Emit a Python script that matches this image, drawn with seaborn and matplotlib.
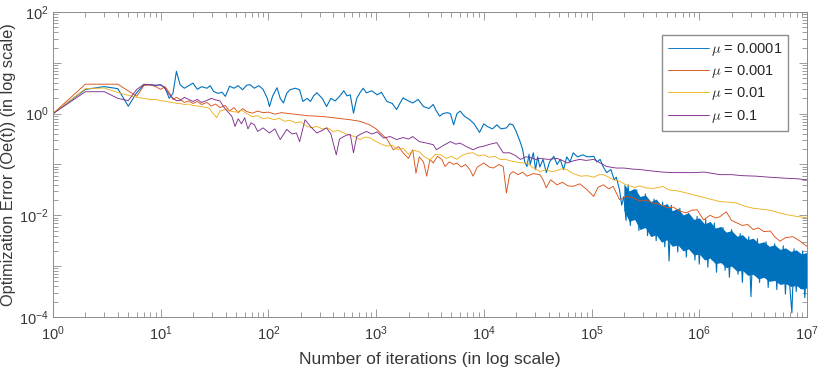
import numpy as np
import pandas as pd
import seaborn as sns
import matplotlib.pyplot as plt
from matplotlib.lines import Line2D
from matplotlib.legend_handler import HandlerLine2D
from matplotlib.ticker import LogLocator, NullFormatter

# ---- data ----
# first iterations (1..14) are shared by all runs
early_iter = [1, 2, 3, 4, 5, 6, 7, 8, 9, 10, 11, 12, 13, 14]
blue_early = [1.0, 3.0, 3.4, 3.1, 1.4, 2.6, 3.7, 3.7, 3.6, 3.7, 3.2, 2.0, 2.5, 6.8]
orange_early = [1.0, 3.8, 3.8, 3.8, 2.8, 2.2, 3.6, 3.7, 3.4, 3.0, 3.4, 2.6, 1.9, 2.1]
yellow_early = [1.0, 3.1, 3.2, 2.6, 2.3, 2.1, 2.0, 1.9, 1.9, 1.8, 1.75, 1.7, 1.65, 1.6]
purple_early = [1.0, 2.7, 2.7, 2.0, 1.8, 3.0, 3.8, 3.7, 3.6, 3.7, 3.1, 2.4, 2.0, 1.8]

# later iterations, stored as log10(iteration) and log10(error)
blue_log_it = [1.18, 1.22, 1.26, 1.30, 1.34, 1.38, 1.43, 1.46, 1.49, 1.53, 1.57, 1.60, 1.64, 1.68,
               1.72, 1.76, 1.80, 1.83, 1.87, 1.91, 1.95, 1.99, 2.01, 2.04, 2.08, 2.11, 2.14, 2.17,
               2.20, 2.25, 2.29, 2.32, 2.36, 2.39, 2.42, 2.45, 2.50, 2.54, 2.58, 2.62, 2.66, 2.70,
               2.73, 2.76, 2.79, 2.82, 2.85, 2.88, 2.91, 2.96, 3.01, 3.05, 3.10, 3.15, 3.19, 3.22,
               3.25, 3.30, 3.34, 3.39, 3.44, 3.49, 3.53, 3.56, 3.59, 3.62, 3.66, 3.69, 3.72, 3.75,
               3.78, 3.82, 3.87, 3.91, 3.96, 4.00, 4.03, 4.08, 4.12, 4.16, 4.21, 4.24, 4.27, 4.30,
               4.34, 4.36, 4.38, 4.40, 4.42, 4.43, 4.46, 4.48, 4.50, 4.52, 4.55, 4.58, 4.61, 4.65,
               4.68, 4.71, 4.74, 4.77, 4.80, 4.83, 4.87, 4.92, 4.96, 5.02, 5.05, 5.08, 5.11, 5.14,
               5.18, 5.21, 5.23, 5.26, 5.28, 5.30, 5.32,
               5.34, 5.36, 5.38, 5.40, 5.42, 5.44, 5.46, 5.48, 5.50, 5.52, 5.54, 5.56, 5.58, 5.60,
               5.62, 5.64, 5.66, 5.68, 5.70, 5.72, 5.74, 5.76, 5.78, 5.80, 5.82, 5.84, 5.86, 5.88,
               5.90, 5.92, 5.94, 5.96, 5.98, 6.00, 6.02, 6.04, 6.06, 6.08, 6.10, 6.12, 6.14, 6.16,
               6.18, 6.20, 6.22, 6.24, 6.26, 6.28, 6.30, 6.32, 6.34, 6.36, 6.38, 6.40, 6.42, 6.44,
               6.46, 6.48, 6.50, 6.52, 6.54, 6.56, 6.58, 6.60, 6.62, 6.64, 6.66, 6.68, 6.70, 6.72,
               6.74, 6.76, 6.78, 6.80, 6.82, 6.84, 6.86, 6.88, 6.90, 6.92, 6.94, 6.96, 6.98, 7.00]
blue_log_err = [0.57, 0.50, 0.55, 0.60, 0.48, 0.53, 0.50, 0.55, 0.44, 0.40, 0.42, 0.34, 0.54, 0.50,
                0.55, 0.47, 0.56, 0.57, 0.50, 0.55, 0.48, 0.30, 0.14, 0.35, 0.51, 0.30, 0.21, 0.40,
                0.47, 0.50, 0.47, 0.24, 0.30, 0.24, 0.35, 0.41, 0.30, 0.14, 0.30, 0.25, 0.34, 0.45,
                0.35, 0.37, 0.01, 0.30, 0.41, 0.50, 0.41, 0.45, 0.37, 0.42, 0.24, 0.20, 0.08, 0.20,
                0.31, 0.25, 0.21, 0.28, 0.14, 0.10, 0.18, 0.05, -0.05, 0.00, 0.02, 0.00, -0.22, 0.00,
                0.05, -0.05, -0.12, -0.20, -0.37, -0.20, -0.25, -0.30, -0.22, -0.30, -0.28, -0.20, -0.22, -0.35,
                -0.57, -0.70, -0.95, -1.04, -0.80, -1.00, -0.77, -1.10, -0.85, -1.05, -0.90, -1.16, -0.95, -0.84,
                -1.00, -0.90, -1.10, -0.85, -0.95, -0.77, -0.85, -0.81, -0.85, -0.84, -0.95, -0.90, -1.05, -1.16,
                -1.10, -1.30, -1.25, -1.50, -1.80, -1.63, -2.10,
                -1.40, -2.20, -1.52, -2.05, -1.50, -2.30, -1.66, -2.20, -1.58, -2.40, -1.74, -2.30, -1.68, -2.50,
                -1.80, -2.42, -1.74, -2.62, -1.82, -2.90, -1.80, -2.55, -1.95, -2.72, -1.86, -2.62, -2.02, -2.82,
                -1.96, -2.68, -2.10, -2.88, -2.02, -2.96, -2.14, -2.78, -2.08, -3.02, -2.22, -2.88, -2.15, -3.12,
                -2.30, -2.92, -2.24, -3.08, -2.36, -3.22, -2.28, -3.02, -2.44, -3.16, -2.36, -3.32, -2.50, -3.08,
                -2.42, -3.60, -2.52, -3.18, -2.46, -3.32, -2.60, -3.22, -2.52, -3.42, -2.64, -3.28, -2.56, -3.46,
                -2.70, -3.34, -2.60, -3.55, -2.72, -3.38, -3.92, -2.66, -3.50, -2.78, -3.44, -2.70, -3.62, -2.86]

# dense part of the mu=0.0001 curve: upper / lower edge of the band
band_log_it = [5.30, 5.35, 5.40, 5.45, 5.50, 5.55, 5.60, 5.65, 5.70, 5.75, 5.80, 5.85, 5.90, 5.95,
               6.00, 6.05, 6.10, 6.15, 6.20, 6.25, 6.30, 6.35, 6.40, 6.45, 6.50, 6.55, 6.60, 6.65,
               6.70, 6.75, 6.80, 6.85, 6.90, 6.95, 7.00]
band_hi = [-1.38, -1.52, -1.47, -1.63, -1.60, -1.73, -1.68, -1.81, -1.77, -1.91, -1.86, -1.99, -1.95, -2.08,
           -2.05, -2.17, -2.12, -2.25, -2.22, -2.33, -2.30, -2.41, -2.38, -2.48, -2.45, -2.55, -2.52, -2.61,
           -2.58, -2.67, -2.64, -2.71, -2.68, -2.76, -2.73]
band_lo = [-1.90, -2.12, -2.08, -2.28, -2.24, -2.42, -2.38, -2.53, -2.48, -2.61, -2.58, -2.70, -2.66, -2.78,
           -2.76, -2.88, -2.84, -2.95, -2.93, -3.03, -3.00, -3.10, -3.08, -3.18, -3.16, -3.25, -3.22, -3.30,
           -3.28, -3.36, -3.34, -3.40, -3.38, -3.45, -3.43]

orange_log_it = [1.18, 1.22, 1.26, 1.30, 1.34, 1.38, 1.43, 1.47, 1.51, 1.55, 1.60, 1.64, 1.68, 1.72,
                 1.76, 1.80, 1.85, 1.90, 1.95, 2.00, 2.06, 2.12, 2.20, 2.28, 2.36, 2.45, 2.52, 2.60,
                 2.68, 2.76, 2.85, 2.94, 3.00, 3.05, 3.10, 3.16, 3.21, 3.25, 3.30, 3.34, 3.37, 3.40,
                 3.44, 3.47, 3.50, 3.53, 3.57, 3.61, 3.64, 3.68, 3.72, 3.75, 3.79, 3.83, 3.87, 3.90,
                 3.94, 4.00, 4.05, 4.09, 4.14, 4.18, 4.21, 4.24, 4.27, 4.32, 4.36, 4.40, 4.46, 4.52,
                 4.55, 4.58, 4.62, 4.68, 4.73, 4.78, 4.83, 4.89, 4.96, 5.02, 5.06, 5.11, 5.16, 5.20,
                 5.26, 5.32, 5.38, 5.45, 5.51, 5.57, 5.63, 5.70, 5.76, 5.82, 5.88, 5.93, 5.98, 6.04,
                 6.10, 6.15, 6.19, 6.25, 6.30, 6.35, 6.40, 6.45, 6.50, 6.55, 6.60, 6.66, 6.70, 6.75,
                 6.80, 6.87, 6.93, 7.00]
orange_log_err = [0.28, 0.22, 0.25, 0.20, 0.24, 0.18, 0.22, 0.15, 0.19, 0.12, 0.16, 0.05, 0.12, 0.02,
                  0.10, 0.04, 0.01, 0.05, 0.02, 0.03, -0.01, 0.02, 0.00, -0.02, -0.04, -0.05, -0.06, -0.08,
                  -0.10, -0.12, -0.15, -0.22, -0.30, -0.40, -0.50, -0.71, -0.65, -0.77, -0.88, -0.71, -1.17, -0.85,
                  -0.95, -1.23, -0.90, -0.97, -0.84, -0.90, -1.04, -0.95, -1.00, -0.97, -1.05, -1.00, -1.10, -1.23,
                  -1.05, -0.97, -1.05, -1.07, -1.00, -1.04, -1.56, -1.20, -1.14, -1.20, -1.15, -1.23, -1.18, -1.20,
                  -1.30, -1.46, -1.30, -1.40, -1.35, -1.42, -1.43, -1.38, -1.50, -1.63, -1.45, -1.40, -1.48, -1.43,
                  -1.69, -1.63, -1.65, -1.72, -1.70, -1.76, -1.78, -1.85, -1.84, -1.92, -1.95, -1.90, -1.89, -2.09,
                  -2.00, -2.05, -2.03, -1.93, -2.10, -2.15, -2.20, -2.18, -2.28, -2.25, -2.32, -2.31, -2.42, -2.51,
                  -2.44, -2.42, -2.50, -2.61]

yellow_log_it = [1.18, 1.22, 1.26, 1.30, 1.35, 1.40, 1.45, 1.48, 1.52, 1.55, 1.60, 1.65, 1.70, 1.75,
                 1.80, 1.85, 1.90, 1.95, 2.00, 2.05, 2.10, 2.15, 2.20, 2.25, 2.30, 2.35, 2.40, 2.45,
                 2.50, 2.55, 2.60, 2.65, 2.70, 2.75, 2.80, 2.85, 2.90, 2.95, 3.00, 3.05, 3.10, 3.15,
                 3.20, 3.25, 3.30, 3.35, 3.40, 3.45, 3.50, 3.55, 3.60, 3.65, 3.70, 3.75, 3.80, 3.85,
                 3.90, 3.95, 4.00, 4.05, 4.10, 4.15, 4.20, 4.25, 4.30, 4.35, 4.40, 4.45, 4.52, 4.58,
                 4.63, 4.68, 4.73, 4.77, 4.83, 4.90, 4.96, 5.02, 5.07, 5.11, 5.16, 5.20, 5.26, 5.32,
                 5.40, 5.45, 5.50, 5.57, 5.63, 5.66, 5.72, 5.80, 5.88, 5.95, 6.03, 6.10, 6.19, 6.27,
                 6.35, 6.42, 6.50, 6.58, 6.66, 6.74, 6.82, 6.90, 7.00]
yellow_log_err = [0.20, 0.18, 0.19, 0.16, 0.15, 0.13, 0.11, 0.02, -0.08, 0.05, 0.08, 0.05, 0.03, 0.07,
                  0.00, -0.06, -0.04, -0.10, -0.08, -0.12, -0.09, -0.15, -0.13, -0.18, -0.16, -0.24, -0.28, -0.25,
                  -0.30, -0.28, -0.35, -0.33, -0.38, -0.42, -0.45, -0.51, -0.46, -0.48, -0.55, -0.60, -0.64, -0.62,
                  -0.71, -0.68, -0.80, -0.72, -0.75, -0.85, -0.91, -0.80, -0.81, -0.88, -0.84, -0.90, -0.82, -0.78,
                  -0.77, -0.83, -0.81, -0.86, -0.84, -0.90, -0.90, -0.93, -0.95, -0.97, -0.97, -1.05, -1.14, -1.10,
                  -1.14, -1.12, -1.08, -1.10, -1.18, -1.23, -1.22, -1.25, -1.20, -1.20, -1.25, -1.30, -1.33, -1.40,
                  -1.45, -1.42, -1.46, -1.47, -1.45, -1.43, -1.50, -1.52, -1.56, -1.60, -1.64, -1.68, -1.73, -1.74,
                  -1.76, -1.82, -1.86, -1.88, -1.90, -1.95, -1.99, -2.02, -2.05]

purple_log_it = [1.18, 1.22, 1.26, 1.30, 1.34, 1.38, 1.43, 1.47, 1.51, 1.55, 1.59, 1.63, 1.66, 1.69,
                 1.72, 1.75, 1.78, 1.81, 1.84, 1.87, 1.90, 1.95, 2.01, 2.06, 2.11, 2.17, 2.22, 2.26,
                 2.29, 2.34, 2.39, 2.45, 2.50, 2.54, 2.58, 2.63, 2.66, 2.70, 2.73, 2.76, 2.79, 2.82,
                 2.85, 2.91, 2.96, 3.01, 3.07, 3.13, 3.19, 3.25, 3.30, 3.34, 3.40, 3.47, 3.53, 3.56,
                 3.62, 3.69, 3.74, 3.78, 3.84, 3.90, 3.95, 4.00, 4.06, 4.12, 4.18, 4.24, 4.29, 4.34,
                 4.39, 4.43, 4.48, 4.52, 4.60, 4.68, 4.73, 4.77, 4.83, 4.89, 4.95, 5.02, 5.08, 5.14,
                 5.23, 5.30, 5.38, 5.45, 5.57, 5.66, 5.76, 5.85, 5.94, 6.05, 6.19, 6.30, 6.40, 6.53,
                 6.65, 6.80, 6.90, 7.00]
purple_log_err = [0.26, 0.32, 0.28, 0.24, 0.28, 0.22, 0.26, 0.30, 0.27, 0.25, 0.12, 0.02, -0.05, -0.25,
                  -0.10, -0.20, -0.08, -0.30, -0.18, -0.22, -0.35, -0.28, -0.38, -0.30, -0.51, -0.31, -0.40, -0.38,
                  -0.55, -0.12, -0.25, -0.38, -0.33, -0.28, -0.40, -0.81, -0.50, -0.45, -0.42, -0.41, -0.77, -0.45,
                  -0.41, -0.35, -0.40, -0.36, -0.48, -0.45, -0.51, -0.47, -0.50, -0.45, -0.55, -0.58, -0.61, -0.71,
                  -0.63, -0.55, -0.60, -0.58, -0.65, -0.71, -0.66, -0.64, -0.60, -0.57, -0.77, -0.77, -0.82, -0.90,
                  -0.85, -0.86, -0.90, -0.88, -0.90, -0.88, -0.92, -0.97, -0.93, -0.90, -0.92, -0.90, -0.97, -1.04,
                  -1.07, -1.07, -1.09, -1.10, -1.13, -1.15, -1.16, -1.16, -1.16, -1.15, -1.20, -1.20, -1.22, -1.23,
                  -1.25, -1.27, -1.28, -1.30]

mu_labels = [r'$\mu$ = 0.0001', r'$\mu$ = 0.001', r'$\mu$ = 0.01', r'$\mu$ = 0.1']
colors = ['#0072BD', '#D95319', '#EDB120', '#7E2F8E']

series = [
    (blue_early, blue_log_it, blue_log_err),
    (orange_early, orange_log_it, orange_log_err),
    (yellow_early, yellow_log_it, yellow_log_err),
    (purple_early, purple_log_it, purple_log_err),
]
frames = []
for lab, (early, lit, lerr) in zip(mu_labels, series):
    it = list(early_iter) + list(10 ** np.array(lit))
    err = list(early) + list(10 ** np.array(lerr))
    frames.append(pd.DataFrame({'iterations': it, 'error': err, 'mu': lab}))
df = pd.concat(frames, ignore_index=True)


class ShortLine(HandlerLine2D):
    # matlab-style legend: short line sample sitting right next to the text
    def create_artists(self, legend, orig_handle, xdescent, ydescent, width, height, fontsize, trans):
        arts = super().create_artists(legend, orig_handle, xdescent, ydescent, width, height, fontsize, trans)
        for a in arts:
            if isinstance(a, Line2D):
                xd = np.asarray(a.get_xdata(), dtype=float)
                if len(xd) == 2:
                    a.set_xdata([xd[0] + 0.5 * (xd[1] - xd[0]), xd[1]])
        return arts


# ---- style ----
sns.set_style('ticks')
plt.rcParams['font.family'] = ['Liberation Sans', 'DejaVu Sans']
plt.rcParams['mathtext.fontset'] = 'cm'
grey = '#8c8c8c'
txt = '#383838'

fig = plt.figure(figsize=(8.2, 3.71), dpi=100)
ax = fig.add_axes([0.0646, 0.1456, 0.9195, 0.8221])

sns.lineplot(data=df, x='iterations', y='error', hue='mu', hue_order=mu_labels,
             palette=dict(zip(mu_labels, colors)), estimator=None, sort=False,
             lw=0.65, ax=ax)
ax.lines[0].set_linewidth(0.8)  # the mu=0.0001 run is much denser in the original
ax.fill_between(10 ** np.array(band_log_it), 10 ** np.array(band_hi), 10 ** np.array(band_lo),
                color=colors[0], lw=0, zorder=1.5)

ax.set_xscale('log')
ax.set_yscale('log')
ax.set_xlim(1, 1e7)
ax.set_ylim(1e-4, 1e2)

ax.set_xticks([10.0 ** k for k in range(0, 8)],
              labels=[r'$\mathdefault{10^{%d}}$' % k for k in range(0, 8)])
ax.set_yticks([10.0 ** k for k in range(-4, 3)],
              labels=[r'$\mathdefault{10^{%d}}$' % k if k % 2 == 0 else '' for k in range(-4, 3)])
ax.xaxis.set_minor_locator(LogLocator(base=10, subs=np.arange(2, 10), numticks=100))
ax.yaxis.set_minor_locator(LogLocator(base=10, subs=np.arange(2, 10), numticks=100))
ax.xaxis.set_minor_formatter(NullFormatter())
ax.yaxis.set_minor_formatter(NullFormatter())

ax.tick_params(which='both', direction='in', top=True, right=True, color=grey, width=0.6,
               labelsize=10.5, labelcolor=txt)
ax.tick_params(axis='x', pad=5)
ax.tick_params(axis='y', pad=3)
ax.tick_params(which='major', length=6)
ax.tick_params(which='minor', length=3.5)
for s in ax.spines.values():
    s.set_color(grey)
    s.set_linewidth(0.7)

ax.set_xlabel('Number of iterations (in log scale)', fontsize=12.6, color=txt, labelpad=7)
ax.set_ylabel('Optimization Error (Oe(t)) (in log scale)', fontsize=11.8, color=txt, labelpad=2)

handles, labels = ax.get_legend_handles_labels()
ax.legend(handles, labels, loc='upper right', bbox_to_anchor=(0.975, 0.925), fontsize=10.5,
          frameon=True, fancybox=False, framealpha=1, edgecolor=grey, handlelength=2.8,
          handletextpad=0.1, labelspacing=0.36, borderpad=0.42, borderaxespad=0,
          handler_map={Line2D: ShortLine()})

fig.savefig('out.png', dpi=100)
